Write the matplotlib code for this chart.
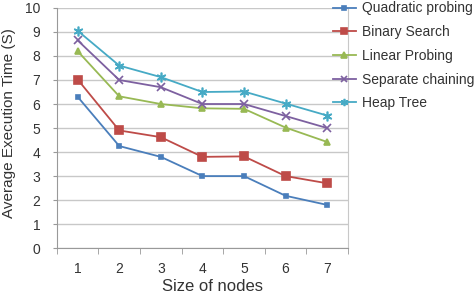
import numpy as np
import matplotlib
matplotlib.use('Agg')
import matplotlib.pyplot as plt

plt.rcParams['font.family'] = ['Liberation Sans', 'DejaVu Sans']

nodes = ['1', '2', '3', '4', '5', '6', '7']
quadratic = [6.3, 4.25, 3.8, 3.0, 3.0, 2.18, 1.8]
binary = [7.02, 4.9, 4.62, 3.8, 3.82, 3.0, 2.7]
linear = [8.2, 6.32, 6.0, 5.82, 5.8, 5.02, 4.42]
separate = [8.65, 7.0, 6.7, 6.0, 6.0, 5.5, 5.0]
heap = [9.05, 7.6, 7.12, 6.5, 6.52, 6.02, 5.52]

names = ['Quadratic probing', 'Binary Search', 'Linear Probing', 'Separate chaining', 'Heap Tree']
series = [quadratic, binary, linear, separate, heap]
colors = ['#4A7EBB', '#BE4B48', '#98B954', '#7D60A0', '#46AAC5']
markers = ['s', 's', '^', 'x', (6, 2, 0)]
msizes = [3.5, 5.5, 5, 6, 7]

fig = plt.figure(figsize=(4.74, 2.94), dpi=100)
ax = fig.add_axes([0.120, 0.156, 0.614, 0.817])

x = np.arange(1, len(nodes) + 1)
for vals, name, c, m, ms in zip(series, names, colors, markers, msizes):
    ax.plot(x, vals, color=c, lw=1.3, marker=m, ms=ms, mew=1.2,
            mfc=c, mec=c, label=name, clip_on=False, zorder=3)

ax.set_xlim(0.5, 7.5)
ax.set_ylim(0, 10)
ax.set_yticks(range(0, 11))
ax.set_xticks(x)
ax.set_xticklabels(nodes)
ax.set_xticks(np.arange(0.5, 8.0, 1), minor=True)
ax.tick_params(axis='x', which='major', length=0, pad=10, labelsize=10, colors='#333333')
ax.tick_params(axis='x', which='minor', length=4, color='#999999', direction='out')
ax.tick_params(axis='y', length=3, pad=9, labelsize=10, colors='#333333', color='#999999')
ax.grid(axis='y', color='#C8C8C8', lw=1)
ax.set_axisbelow(True)
ax.spines['top'].set_visible(False)
ax.spines['left'].set_color('#999999')
ax.spines['bottom'].set_color('#999999')
ax.spines['right'].set_color('#C8C8C8')

ax.set_xlabel('Size of nodes', fontsize=12, color='#333333')
ax.xaxis.set_label_coords(0.533, -0.128)
ax.set_ylabel('Average Execution Time (S)', fontsize=11, color='#333333')
ax.yaxis.set_label_coords(-0.14, 0.52)

leg = ax.legend(loc='upper left', bbox_to_anchor=(0.948, 1.027), frameon=False,
                fontsize=10, handlelength=1.65, handletextpad=0.45, labelspacing=0.7,
                borderaxespad=0, borderpad=0, markerscale=0.75)
for t in leg.get_texts():
    t.set_color('#333333')

fig.savefig('out.png', dpi=100)
